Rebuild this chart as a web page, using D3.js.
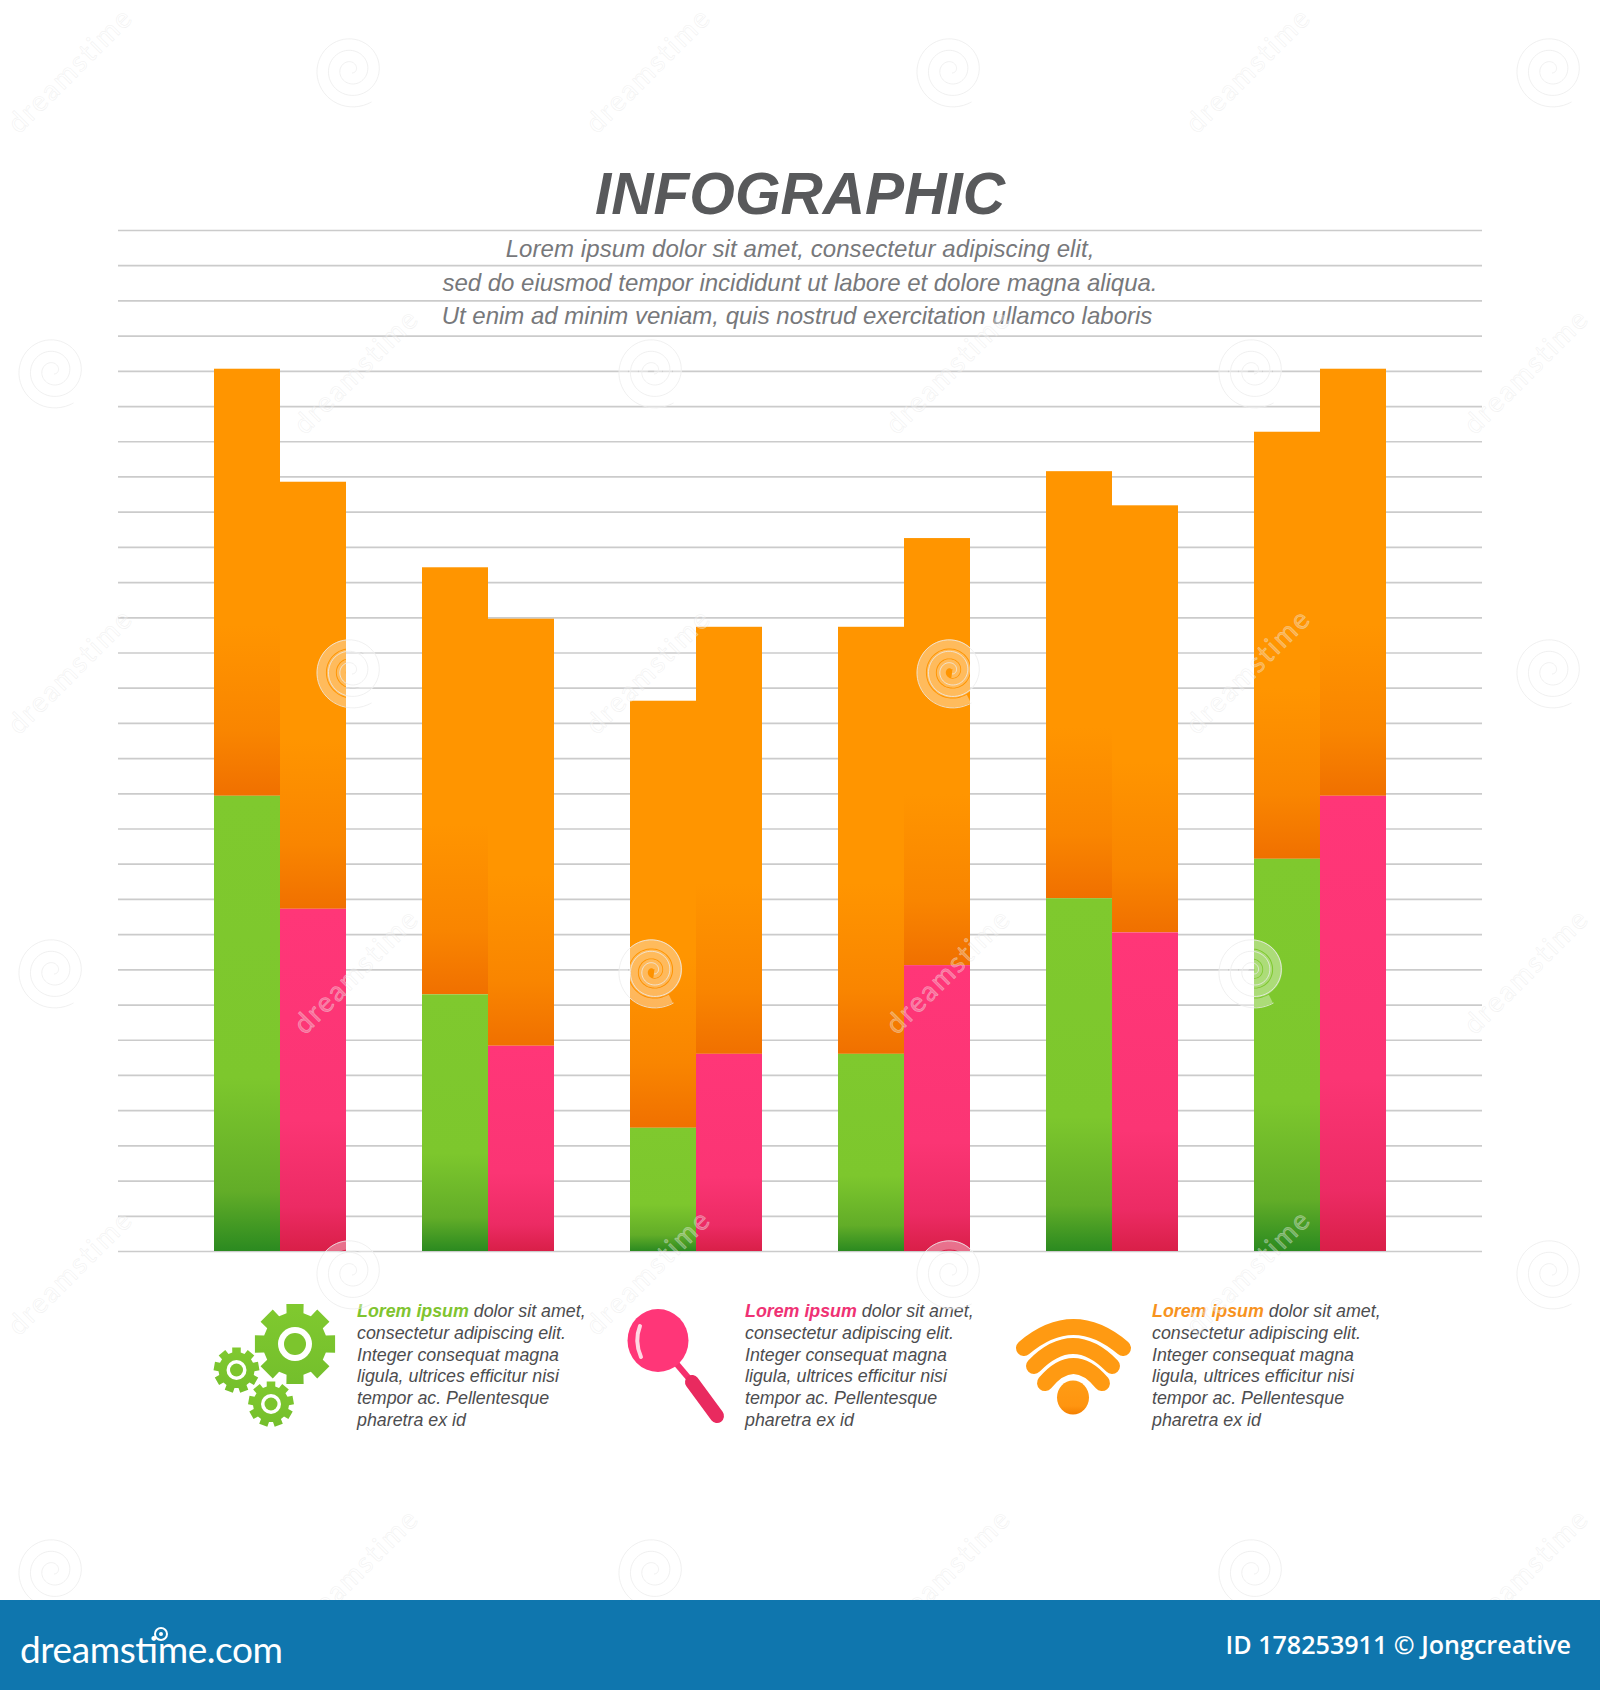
<!DOCTYPE html>
<html><head><meta charset="utf-8">
<style>html,body{margin:0;padding:0;background:#fff}svg{display:block}</style>
<script src="https://cdn.jsdelivr.net/npm/d3@7/dist/d3.min.js"></script>
</head><body><svg id="c" width="1600" height="1690" font-family="Liberation Sans, Arial, sans-serif"></svg>
<script>
const categories = ["A","B","C","D","E","F"];
const sides = ["left","right"];
const lowerLeft  = [129.3, 72.9, 35.0, 56.0, 100.2, 111.4];
const lowerRight = [97.2, 58.3, 56.0, 81.2, 90.5, 129.3];
const upperLeft  = [121.3, 121.3, 121.3, 121.3, 121.3, 121.3];
const upperRight = [121.3, 121.3, 121.3, 121.3, 121.3, 121.3];
const gridTicks = [0,10,20,30,40,50,60,70,80,90,100,110,120,130,140,150,160,170,180,190,200,210,220,230,240,250,260,270,280,290];
const titleText = "INFOGRAPHIC";
const subtitleLines = ["Lorem ipsum dolor sit amet, consectetur adipiscing elit,","sed do eiusmod tempor incididunt ut labore et dolore magna aliqua.","Ut enim ad minim veniam, quis nostrud exercitation ullamco laboris"];
const noteLead = "Lorem ipsum";
const noteFirst = " dolor sit amet,";
const noteLines = ["consectetur adipiscing elit.","Integer consequat magna","ligula, ultrices efficitur nisi","tempor ac. Pellentesque","pharetra ex id"];
const noteColumns = [{x:357,c:"#7fc42f"},{x:745,c:"#ef3274"},{x:1152,c:"#f7931e"}];

const svg = d3.select("#c");
const defs = svg.append("defs");
const y = d3.scaleLinear().domain([0,290]).range([1251,230]);
const x = d3.scaleBand().domain(categories).range([214,1386]).paddingInner(76/208);
const xs = d3.scaleBand().domain(sides).range([0,x.bandwidth()]);

function grad(id,stops){
  const g = defs.append("linearGradient").attr("id",id).attr("x1",0).attr("x2",0).attr("y1",0).attr("y2",1);
  stops.forEach(s=>g.append("stop").attr("offset",s[0]).attr("stop-color",s[1]));
}
grad("gO",[[0,"#ff9500"],[.6,"#ff9500"],[.85,"#f98500"],[1,"#f07000"]]);
grad("gG",[[0,"#7fc92e"],[.62,"#7dc72d"],[.87,"#62ad28"],[1,"#2b8a20"]]);
grad("gP",[[0,"#ff3678"],[.62,"#fb3574"],[.87,"#ec2b64"],[1,"#d91f48"]]);
grad("gIconG",[[0,"#80c92f"],[1,"#74bf2c"]]);
grad("gIconO",[[0,"#ff9c14"],[.75,"#ff9510"],[1,"#f47f00"]]);

// grid
const axis = d3.axisLeft(y).tickValues(gridTicks).tickSize(-1364).tickFormat("");
const ga = svg.append("g").attr("transform","translate(118,0)").call(axis);
ga.select(".domain").remove();
ga.selectAll("line").attr("stroke","#cbcbcb").attr("stroke-width",1.7);

// bars
const rows = categories.flatMap((c,i)=>[
  {c,side:"left",low:lowerLeft[i],up:upperLeft[i],fill:"url(#gG)"},
  {c,side:"right",low:lowerRight[i],up:upperRight[i],fill:"url(#gP)"}]);
const bars = svg.append("g");
bars.selectAll("rect.up").data(rows).join("rect").attr("class","up")
  .attr("x",d=>x(d.c)+xs(d.side)).attr("width",xs.bandwidth())
  .attr("y",d=>y(d.low+d.up)).attr("height",d=>y(d.low)-y(d.low+d.up)).attr("fill","url(#gO)");
bars.selectAll("rect.low").data(rows).join("rect").attr("class","low")
  .attr("x",d=>x(d.c)+xs(d.side)).attr("width",xs.bandwidth())
  .attr("y",d=>y(d.low)).attr("height",d=>y(0)-y(d.low)).attr("fill",d=>d.fill);

// title
svg.append("text").attr("x",800).attr("y",213.5).attr("text-anchor","middle").attr("font-size",58.6)
  .attr("font-weight",700).attr("font-style","italic").attr("fill","#58595b").text(titleText);
const subY=[257,290.5,324], subX=[800,800,797], subLen=[588.7,715,710.6];
svg.selectAll("text.sub").data(subtitleLines).join("text").attr("class","sub")
  .attr("x",(d,i)=>subX[i]).attr("y",(d,i)=>subY[i]).attr("text-anchor","middle")
  .attr("textLength",(d,i)=>subLen[i])
  .attr("font-size",24).attr("font-style","italic").attr("fill","#77787b").text(d=>d);

// notes
const noteY=[1317,1338.5,1360.5,1382,1404,1426];
noteColumns.forEach(col=>{
  const t=svg.append("text").attr("x",col.x).attr("y",noteY[0]).attr("font-size",17.82).attr("font-style","italic").attr("fill","#4d4d4f");
  t.append("tspan").attr("font-weight",700).attr("fill",col.c).text(noteLead);
  t.append("tspan").text(noteFirst);
  noteLines.forEach((l,i)=>svg.append("text").attr("x",col.x).attr("y",noteY[i+1]).attr("font-size",17.82).attr("font-style","italic").attr("fill","#4d4d4f").text(l));
});

// icons
function gearPath(cx,cy,rO,rR,n,rot){
  const p=d3.path(), step=2*Math.PI/n, a=step*0.27, b=step*0.34;
  for(let k=0;k<n;k++){
    const t=rot+k*step;
    [[rR,t-b],[rO,t-a],[rO,t+a],[rR,t+b]].forEach((q,j)=>{
      const X=cx+q[0]*Math.cos(q[1]),Y=cy+q[0]*Math.sin(q[1]);
      (k===0&&j===0)?p.moveTo(X,Y):p.lineTo(X,Y);});
  }
  p.closePath();return p.toString();
}
function gear(cx,cy,rO,rR,n,rot,hole,dot){
  svg.append("path").attr("d",gearPath(cx,cy,rO,rR,n,rot)).attr("fill","url(#gIconG)");
  svg.append("circle").attr("cx",cx).attr("cy",cy).attr("r",hole).attr("fill","#fff");
  svg.append("circle").attr("cx",cx).attr("cy",cy).attr("r",dot).attr("fill","#7cc52d");
}
gear(295,1344,41,32,8,-Math.PI/2,17,11);
gear(236.5,1370,23,18,9,-Math.PI/2,10,6.5);
gear(271,1404,23,18,9,-Math.PI/2,10,6.5);

// magnifier
const mag=svg.append("g");
mag.append("line").attr("x1",675).attr("y1",1362).attr("x2",692).attr("y2",1382).attr("stroke","#f62f6d").attr("stroke-width",6);
mag.append("line").attr("x1",692).attr("y1",1382).attr("x2",717).attr("y2",1416).attr("stroke","#e92a5f").attr("stroke-width",14).attr("stroke-linecap","round");
mag.append("ellipse").attr("cx",658).attr("cy",1340.5).attr("rx",30.5).attr("ry",31.5).attr("fill","#ff3678");
mag.append("path").attr("d","M640,1326 Q634,1341 641,1357").attr("fill","none").attr("stroke","#ffd6e3").attr("stroke-width",4).attr("stroke-linecap","round");

// wifi
const wifi=svg.append("g");
[[1024,1123,1348,1327],[1034,1112,1366,1346],[1045,1102,1383,1366]].forEach(a=>{
  const ctrl=2*a[3]-a[2];
  wifi.append("path").attr("d",`M${a[0]},${a[2]} Q${(a[0]+a[1])/2},${ctrl} ${a[1]},${a[2]}`)
    .attr("fill","none").attr("stroke","#ff9a12").attr("stroke-width",16).attr("stroke-linecap","round");
});
wifi.append("ellipse").attr("cx",1073).attr("cy",1397.5).attr("rx",16).attr("ry",17).attr("fill","url(#gIconO)");

// watermark tiles
const wm=svg.append("g").attr("pointer-events","none");
function spiralPts(cx,cy,r0){
  const out=[];for(let a=0;a<=3.05*2*Math.PI;a+=.12){const r=r0*(1-a/(3.3*2*Math.PI));out.push([cx+r*Math.cos(a+1),cy+r*Math.sin(a+1)]);}
  return out;
}
const line=d3.line().curve(d3.curveBasis);
function spiral(cx,cy){
  wm.append("path").attr("d",line(spiralPts(cx,cy,33))).attr("fill","none").attr("stroke","#fff").attr("stroke-opacity",.36).attr("stroke-width",9);
  wm.append("path").attr("d",line(spiralPts(cx,cy,38))).attr("fill","none").attr("stroke","#ececec").attr("stroke-opacity",.8).attr("stroke-width",1);
}
const tileY=[70,371,671,971,1272,1571];
tileY.forEach((ry,i)=>{
  const sp=i%2? [53,653,1253]:[351,951,1551];
  const tp=i%2? [356,948,1526]:[70,648,1248];
  sp.forEach(sx=>spiral(sx,ry));
  tp.forEach(tx=>{
    wm.append("text").attr("transform",`translate(${tx},${ry}) rotate(-45)`).attr("text-anchor","middle").attr("dy",".35em")
      .attr("font-family","Lato").attr("font-size",28).attr("letter-spacing",2).attr("fill","#fff").attr("fill-opacity",.3)
      .attr("stroke","#e2e2e2").attr("stroke-opacity",.45).attr("stroke-width",.6).text("dreamstime");
  });
});

// footer
svg.append("rect").attr("x",0).attr("y",1600).attr("width",1600).attr("height",90).attr("fill","#0f76ae");
svg.append("text").attr("x",20).attr("y",1663).attr("fill","#fff").attr("font-size",37).attr("font-family","Lato")
  .attr("textLength",263).text("dreamstime.com");
svg.append("circle").attr("cx",161).attr("cy",1634).attr("r",6).attr("fill","none").attr("stroke","#fff").attr("stroke-width",2);
svg.append("circle").attr("cx",161).attr("cy",1634).attr("r",2).attr("fill","#fff");
svg.append("text").attr("x",1571).attr("y",1654).attr("text-anchor","end").attr("fill","#fff").attr("font-size",25.1)
  .attr("font-family","Open Sans").attr("font-weight",600).text("ID 178253911 © Jongcreative");
</script></body></html>
